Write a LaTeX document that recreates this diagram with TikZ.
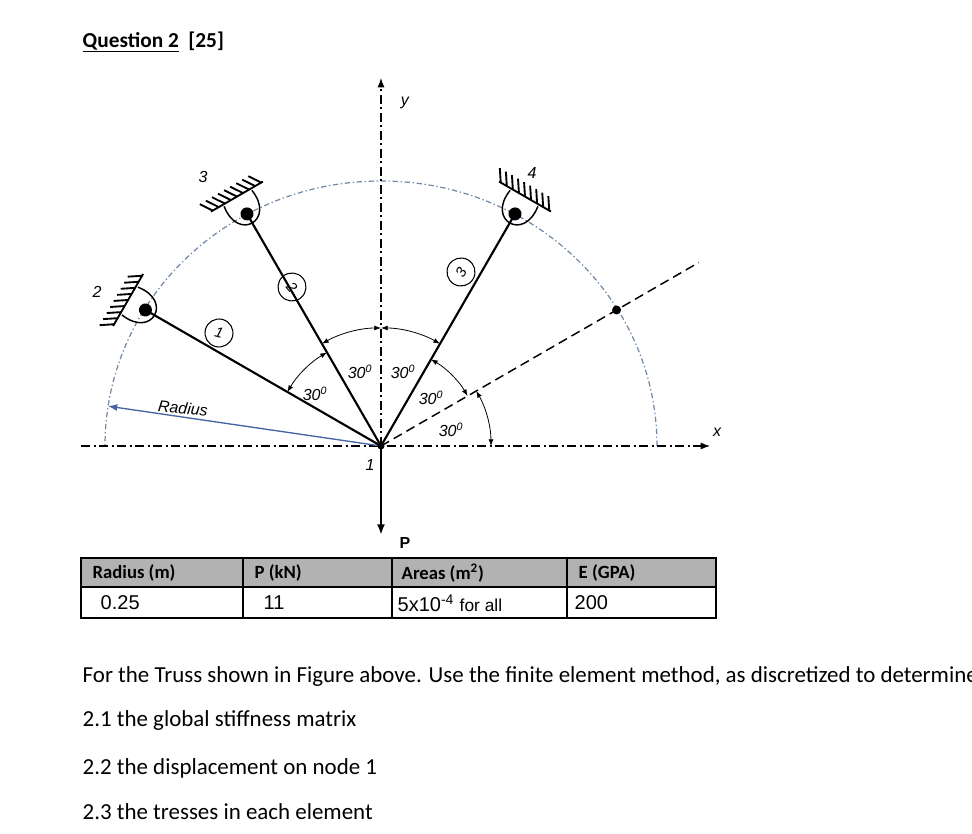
\documentclass[tikz,border=0pt]{standalone}
\usepackage{fontspec}
\setmainfont{Carlito}
\newfontfamily\arialf{Liberation Sans}
\usetikzlibrary{arrows.meta}
\definecolor{arcblue}{RGB}{110,135,165}
\definecolor{radblue}{RGB}{70,100,160}
\definecolor{hdr}{RGB}{178,178,178}
\tikzset{
  member/.style={line width=1.6pt},
  axisline/.style={line width=0.8pt,dash pattern=on 7pt off 2.5pt on 1.5pt off 2.5pt},
  angarrow/.style={line width=0.6pt,{Latex[length=5pt]}-{Latex[length=5pt]}},
  flab/.style={font=\arialf\itshape\fontsize{12}{12}\selectfont},
  elem/.style={draw,circle,line width=0.8pt,minimum size=21pt,inner sep=0pt,font=\arialf\itshape\fontsize{11}{11}\selectfont},
  cell/.style={font=\arialf\fontsize{15}{15}\selectfont,anchor=west},
  hcell/.style={font=\bfseries\fontsize{14}{14}\selectfont,anchor=west},
  body/.style={font=\fontsize{17.2}{18}\selectfont,anchor=west}
}
\newcommand{\supp}[2]{% position, angle
  \begin{scope}[shift={#1},rotate=#2]
    \draw[line width=1.1pt] (18,-16) .. controls (-20,-22) and (-20,22) .. (18,16);
    \draw[line width=1.4pt] (20,-30) -- (20,30);
    \foreach \t in {-28,-21,...,28} \draw[line width=1.4pt] (20,\t) -- (32,\t+8);
    \fill (0,0) circle (6.5);
  \end{scope}}
\begin{document}
\begin{tikzpicture}[x=0.75pt,y=0.75pt]
\useasboundingbox (-381,-388) rectangle (591,446);
\coordinate (O) at (0,0);
% arc
\draw[arcblue,line width=0.9pt,dash pattern=on 4pt off 2pt on 1pt off 2pt] (276,0) arc[start angle=0,end angle=180,x radius=276,y radius=265];
% axes
\draw[axisline,-{Latex[length=7pt]}] (-300,0) -- (329,0) coordinate (xe);
\node[flab] at (336,14) {x};
\draw[axisline,-{Latex[length=7pt]}] (O) -- (0,368) coordinate (ye);
\node[flab] at (24,343) {y};
% dashed 30
\draw[line width=1.1pt,dash pattern=on 7pt off 4pt] (O) -- (30:367) coordinate (de);
\fill (30:272) circle (4.5);
% radius line
\draw[radblue,line width=1pt,-{Latex[length=7pt]}] (O) -- (171.7:276) coordinate (re);
\node[flab,rotate=-6] at (-198,38) {Radius};
% members
\coordinate (n2) at (150:272);
\coordinate (n3) at (120:268);
\coordinate (n4) at (60:268);
\draw[member] (O) -- (n2);
\draw[member] (O) -- (n3);
\draw[member] (O) -- (n4);
\supp{(n2)}{150}
\supp{(n3)}{120}
\supp{(n4)}{60}
\node[flab] at (-284,154) {2};
\node[flab] at (-178,269) {3};
\node[flab] at (151,273) {4};
\node[elem,rotate=-15] (e1) at (-162,113) {1};
\node[elem,rotate=-50] (e2) at (-89,159) {2};
\node[elem,rotate=60] (e3) at (80,174) {3};
% angles
\draw[angarrow] (150:108) arc[start angle=150,end angle=120,radius=108];
\draw[angarrow] (120:118) arc[start angle=120,end angle=90,radius=118];
\draw[angarrow] (90:118) arc[start angle=90,end angle=60,radius=118];
\draw[angarrow] (60:100) arc[start angle=60,end angle=30,radius=100];
\draw[angarrow] (30:110) arc[start angle=30,end angle=0,radius=110];
\node[flab] at (-66,52) {30\textsuperscript{0}};
\node[flab] at (-21,74) {30\textsuperscript{0}};
\node[flab] at (22,74) {30\textsuperscript{0}};
\node[flab] at (50,48) {30\textsuperscript{0}};
\node[flab] at (70,16) {30\textsuperscript{0}};
\fill (O) circle (3.5);
\node[flab] at (-11,-19) {1};
% load
\draw[line width=1.8pt,-{Latex[length=8pt]}] (O) -- (0,-89) coordinate (pe);
\node[font=\arialf\bfseries\fontsize{12}{12}\selectfont] at (24,-97) {P};
% table
\fill[hdr] (-300,-112) rectangle (335,-141);
\draw[line width=0.8pt] (-300,-112) rectangle (335,-172);
\draw[line width=0.8pt] (-300,-141) -- (335,-141);
\foreach \x in {-138,11,186} \draw[line width=0.8pt] (\x,-112) -- (\x,-172);
\node[hcell] at (-293,-127) {Radius (m)};
\node[hcell] at (-131,-127) {P (kN)};
\node[hcell] at (16,-127) {Areas (m\textsuperscript{2})};
\node[hcell] at (193,-127) {E (GPA)};
\node[cell] at (-285,-157) {0.25};
\node[cell] at (-122,-157) {11};
\node[cell] at (12,-157) {5x10\textsuperscript{-4} {\fontsize{13}{13}\selectfont for all}};
\node[cell] at (189,-157) {200};
% text
\node[font=\bfseries\fontsize{16}{18}\selectfont,anchor=west] at (-303,404) {\underline{Question 2}\ \ [25]};
\node[body] at (-303,-231) {For the Truss shown in Figure above. Use the finite element method, as discretized to determine};
\node[body] at (-303,-275) {2.1 the global stiffness matrix};
\node[body] at (-303,-322) {2.2 the displacement on node 1};
\node[body] at (-303,-366) {2.3 the tresses in each element};
\end{tikzpicture}
\end{document}
